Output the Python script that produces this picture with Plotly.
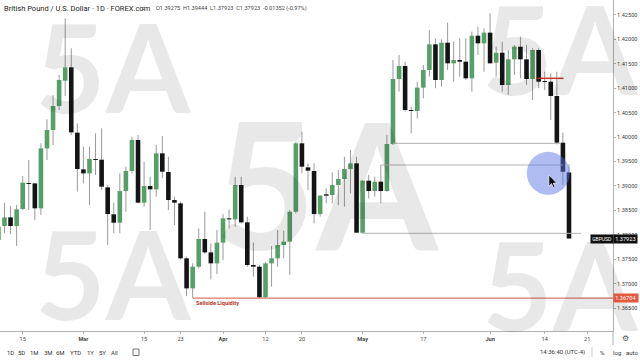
import plotly.graph_objects as go

# ---- data (bar index 0 = Feb 15 2021, daily GBPUSD) ----
bar_index = list(range(-4, 91))
opens = [1.37892, 1.38179, 1.38356, 1.38179, 1.38527, 1.39059, 1.39052, 1.38541, 1.39769, 1.40145,
         1.40636, 1.41155, 1.41428, 1.40090, 1.39339, 1.39257, 1.39551, 1.39537, 1.38970, 1.38418,
         1.38247, 1.38895, 1.39305, 1.39940, 1.38657, 1.38998, 1.38930, 1.39667, 1.39285, 1.38711,
         1.38643, 1.37517, 1.36902, 1.37346, 1.37913, 1.37639, 1.37414, 1.37838, 1.38336, 1.38315,
         1.39018, 1.38254, 1.37380, 1.37346, 1.36718, 1.37414, 1.37517, 1.37790, 1.37858, 1.38472,
         1.39872, 1.39380, 1.39305, 1.38424, 1.38828, 1.38814, 1.39018, 1.39141, 1.39346, 1.39462,
         1.38042, 1.39107, 1.38895, 1.39087, 1.38895, 1.39858, 1.41189, 1.41455, 1.40554, 1.40534,
         1.41012, 1.41373, 1.41899, 1.41169, 1.41933, 1.41510, 1.41578, 1.41544, 1.41203, 1.42076,
         1.41920, 1.42138, 1.41524, 1.41728, 1.41066, 1.41592, 1.41851, 1.41592, 1.41189, 1.41783,
         1.41148, 1.41134, 1.40841, 1.39885, 1.39275]
highs = [1.38233, 1.38657, 1.38588, 1.38609, 1.39203, 1.39531, 1.39052, 1.39872, 1.40363, 1.40861,
         1.41271, 1.42431, 1.41817, 1.40281, 1.39803, 1.39803, 1.40076, 1.40179, 1.39018, 1.38657,
         1.39257, 1.39394, 1.40008, 1.40042, 1.39496, 1.39189, 1.39838, 1.40022, 1.39599, 1.38780,
         1.38677, 1.37551, 1.37414, 1.38131, 1.38472, 1.37824, 1.38097, 1.38424, 1.38520, 1.39189,
         1.39189, 1.38370, 1.37838, 1.37380, 1.37448, 1.37769, 1.38097, 1.38083, 1.38507, 1.39906,
         1.40111, 1.39462, 1.39462, 1.38814, 1.38950, 1.39278, 1.39325, 1.39599, 1.39735, 1.39599,
         1.39121, 1.39223, 1.39189, 1.39428, 1.40042, 1.41578, 1.41681, 1.41544, 1.40622, 1.41134,
         1.41476, 1.42193, 1.42022, 1.42001, 1.42343, 1.41954, 1.42022, 1.42022, 1.42158, 1.42261,
         1.42227, 1.42534, 1.41851, 1.41954, 1.41783, 1.41885, 1.42056, 1.41885, 1.41817, 1.41817,
         1.41339, 1.41305, 1.41339, 1.40090, 1.39444]
lows = [1.37414, 1.38029, 1.38015, 1.37769, 1.38507, 1.38507, 1.38302, 1.38404, 1.39531, 1.39838,
        1.40554, 1.40841, 1.40042, 1.38882, 1.39052, 1.38609, 1.39223, 1.38916, 1.37790, 1.38029,
        1.38029, 1.38472, 1.39257, 1.38643, 1.38575, 1.38097, 1.38780, 1.39155, 1.38507, 1.38199,
        1.37496, 1.36745, 1.36710, 1.37312, 1.37605, 1.37087, 1.37196, 1.37483, 1.38131, 1.38165,
        1.38233, 1.37346, 1.37141, 1.36704, 1.36704, 1.36937, 1.37346, 1.37517, 1.37175, 1.38438,
        1.39257, 1.38916, 1.38233, 1.38370, 1.38643, 1.38643, 1.38609, 1.38575, 1.38848, 1.38042,
        1.38029, 1.38745, 1.38780, 1.38643, 1.38882, 1.39838, 1.40930, 1.40520, 1.40076, 1.40384,
        1.40793, 1.41237, 1.41000, 1.41032, 1.41373, 1.41134, 1.41237, 1.41169, 1.40930, 1.41681,
        1.41339, 1.41510, 1.41237, 1.40930, 1.40861, 1.41271, 1.41203, 1.41066, 1.40759, 1.41000,
        1.40964, 1.40349, 1.39850, 1.39020, 1.37923]
closes = [1.38165, 1.38356, 1.38179, 1.38520, 1.39066, 1.39039, 1.38541, 1.39769, 1.40145, 1.40636,
          1.41169, 1.41428, 1.40097, 1.39346, 1.39257, 1.39551, 1.39531, 1.38984, 1.38424, 1.38247,
          1.38895, 1.39305, 1.39940, 1.38657, 1.38998, 1.38930, 1.39667, 1.39291, 1.38711, 1.38657,
          1.37517, 1.36902, 1.37346, 1.37913, 1.37639, 1.37414, 1.37838, 1.38336, 1.38315, 1.39018,
          1.38254, 1.37380, 1.37346, 1.36718, 1.37414, 1.37517, 1.37790, 1.37858, 1.38472, 1.39872,
          1.39394, 1.39312, 1.38424, 1.38800, 1.38800, 1.39018, 1.39141, 1.39346, 1.39462, 1.38042,
          1.39107, 1.38895, 1.39087, 1.38895, 1.39858, 1.41189, 1.41455, 1.40554, 1.40534, 1.41012,
          1.41373, 1.41899, 1.41169, 1.41933, 1.41510, 1.41578, 1.41544, 1.41203, 1.42076, 1.41920,
          1.42138, 1.41510, 1.41728, 1.41066, 1.41592, 1.41851, 1.41592, 1.41189, 1.41783, 1.41134,
          1.41128, 1.40841, 1.39885, 1.39291, 1.37923]

tick_index = [0, 10, 20, 26, 33, 40, 46, 56, 66, 77, 86, 93]
tick_labels = ["15", "<b>Mar</b>", "15", "23", "<b>Apr</b>", "12", "20",
               "<b>May</b>", "17", "<b>Jun</b>", "14", "21"]
price_ticks = [1.365, 1.370, 1.375, 1.380, 1.385, 1.390, 1.395, 1.400,
               1.405, 1.410, 1.415, 1.420, 1.425]

sellside_level = 1.36704
sellside_start = 28
last_price = 1.37923
gray_levels = [1.39872, 1.39428, 1.38029]
gray_starts = [61, 59, 56]
gray_ends = [88.5, 89, 92]
red_level = 1.41203
red_span = [84.6, 89.1]

GREEN = "#55a066"
BLACK = "#141414"
WICK = "#9a9a9a"
FONT = "Roboto"

# ---- build traces ----
wx, wy = [], []
gx, gy, bx, by = [], [], [], []
min_body = 0.00016
for i, o, h, l, c in zip(bar_index, opens, highs, lows, closes):
    wx += [i, i, None]
    wy += [l, h, None]
    lo_b, hi_b = min(o, c), max(o, c)
    if hi_b - lo_b < min_body:
        mid = (hi_b + lo_b) / 2
        lo_b, hi_b = mid - min_body / 2, mid + min_body / 2
    if c > o:
        gx += [i, i, None]; gy += [lo_b, hi_b, None]
    else:
        bx += [i, i, None]; by += [lo_b, hi_b, None]

fig = go.Figure()
fig.add_trace(go.Scatter(x=wx, y=wy, mode="lines", line=dict(color=WICK, width=1),
                         hoverinfo="skip"))
fig.add_trace(go.Scatter(x=gx, y=gy, mode="lines", line=dict(color=GREEN, width=4.6),
                         hoverinfo="skip"))
fig.add_trace(go.Scatter(x=bx, y=by, mode="lines", line=dict(color=BLACK, width=4.6),
                         hoverinfo="skip"))

X0, X1 = -3.74, 97.25
Y0, Y1 = 1.36029, 1.42807
PW, PH = 613.0, 331.0


def px(x):
    return x / PW


def py(y):
    return 1 - y / PH


shapes = []
for lev, s, e in zip(gray_levels, gray_starts, gray_ends):
    shapes.append(dict(type="line", xref="x", yref="y", x0=s, x1=e, y0=lev, y1=lev,
                       line=dict(color="#b4b4b4", width=1)))
shapes.append(dict(type="line", xref="x", yref="y", x0=red_span[0], x1=red_span[1],
                   y0=red_level, y1=red_level, line=dict(color="#c0392b", width=1.5)))
shapes.append(dict(type="line", xref="x", yref="y", x0=sellside_start, x1=X1,
                   y0=sellside_level, y1=sellside_level, line=dict(color="#dc7a66", width=1.2)))
shapes.append(dict(type="line", xref="paper", yref="paper", x0=1, x1=1, y0=0, y1=py(345),
                   line=dict(color="#b0b0b0", width=1)))
shapes.append(dict(type="line", xref="paper", yref="paper", x0=px(592), x1=px(592),
                   y0=py(347), y1=py(357), line=dict(color="#cccccc", width=1)))
shapes.append(dict(type="rect", xref="paper", yref="paper", x0=px(133), x1=px(139),
                   y0=py(349), y1=py(355.5), line=dict(color="#555", width=0.8)))
shapes.append(dict(type="circle", xref="x", yref="y", xsizemode="pixel", ysizemode="pixel",
                   xanchor=86.59, yanchor=1.39258, x0=-21.5, x1=21.5, y0=-21.5, y1=21.5,
                   fillcolor="rgba(85,115,228,0.48)", line=dict(width=0)))
shapes.append(dict(type="path", xref="x", yref="y", xsizemode="pixel", ysizemode="pixel",
                   xanchor=86.7, yanchor=1.39223,
                   path="M0,0 L0,-11 L2.6,-8.6 L4.4,-12.6 L6,-11.9 L4.3,-8.1 L7.6,-8.1 Z",
                   fillcolor="black", line=dict(color="white", width=0.6)))

ann = []
WM = "rgba(0,0,0,0.09)"
for cx, cy, size in [(113.5, 66, 122), (113.5, 273, 122), (327, 181, 176),
                     (560, 48, 122), (560, 284, 122)]:
    ann.append(dict(text="5A", xref="paper", yref="paper", x=px(cx), y=py(cy),
                    xanchor="center", yanchor="middle", showarrow=False,
                    font=dict(family="Lato", size=size, color=WM, weight="bold")))
ann.append(dict(text="British Pound / U.S. Dollar · 1D · FOREX.com", xref="paper", yref="paper",
                x=px(2), y=py(8.5), xanchor="left", yanchor="middle", showarrow=False,
                font=dict(family=FONT, size=7.5, color="#222")))
ann.append(dict(text="=", xref="paper", yref="paper", x=px(143), y=py(8.5), xanchor="center",
                yanchor="middle", showarrow=False, font=dict(family=FONT, size=8, color="#555")))
ann.append(dict(text="O1.39275  H1.39444  L1.37923  C1.37923  -0.01352 (-0.97%)",
                xref="paper", yref="paper", x=px(154), y=py(8.5), xanchor="left",
                yanchor="middle", showarrow=False,
                font=dict(family=FONT, size=5.6, color="#444")))
ann.append(dict(text="<b>Sellside Liquidity</b>", xref="x", yref="y", x=sellside_start + 0.2,
                y=sellside_level, yshift=-5, xanchor="left", yanchor="middle", showarrow=False,
                font=dict(family=FONT, size=5.6, color="#b8372b")))
ann.append(dict(text="1.37923", xref="paper", yref="y", x=px(626), y=last_price,
                xanchor="center", yanchor="middle", showarrow=False, bgcolor="#111",
                borderpad=1.2, font=dict(family=FONT, size=5.6, color="white")))
ann.append(dict(text="GBPUSD", xref="paper", yref="y", x=px(601.5), y=last_price,
                xanchor="center", yanchor="middle", showarrow=False, bgcolor="#111",
                borderpad=1.2, font=dict(family=FONT, size=5, color="white")))
ann.append(dict(text="1.36704", xref="paper", yref="y", x=px(626), y=sellside_level,
                xanchor="center", yanchor="middle", showarrow=False, bgcolor="#e4583e",
                borderpad=1.2, font=dict(family=FONT, size=5.6, color="white")))
for lbl, cx in [("1D", 10), ("5D", 21), ("1M", 34.5), ("3M", 48.5), ("6M", 60.5),
                ("YTD", 75.5), ("1Y", 90), ("5Y", 102), ("All", 114.5)]:
    ann.append(dict(text=lbl, xref="paper", yref="paper", x=px(cx), y=py(352),
                    xanchor="center", yanchor="middle", showarrow=False,
                    font=dict(family=FONT, size=6, color="#333")))
for lbl, cx in [("14:36:40 (UTC-4)", 562.5), ("%", 602), ("log", 616.5), ("auto", 632)]:
    ann.append(dict(text=lbl, xref="paper", yref="paper", x=px(cx), y=py(352),
                    xanchor="center", yanchor="middle", showarrow=False,
                    font=dict(family=FONT, size=6, color="#333")))
ann.append(dict(text="⚙", xref="paper", yref="paper", x=px(625), y=py(338),
                xanchor="center", yanchor="middle", showarrow=False,
                font=dict(family="DejaVu Sans", size=8, color="#555")))

fig.update_layout(
    width=640, height=360, margin=dict(l=0, r=27, t=0, b=29),
    paper_bgcolor="white", plot_bgcolor="white", showlegend=False,
    shapes=shapes, annotations=ann,
    xaxis=dict(range=[X0, X1], tickvals=tick_index, ticktext=tick_labels,
               showgrid=False, zeroline=False, showline=True, linecolor="#b0b0b0",
               ticks="outside", ticklen=2, tickcolor="#b0b0b0",
               tickfont=dict(family=FONT, size=5.6, color="#444")),
    yaxis=dict(range=[Y0, Y1], side="right", tickvals=price_ticks,
               ticktext=[f"{v:.5f}" for v in price_ticks],
               showgrid=False, zeroline=False, showline=True, linecolor="#b0b0b0",
               ticks="outside", ticklen=2, tickcolor="#b0b0b0",
               tickfont=dict(family=FONT, size=5.6, color="#444")),
)

fig.write_html("out.html")
